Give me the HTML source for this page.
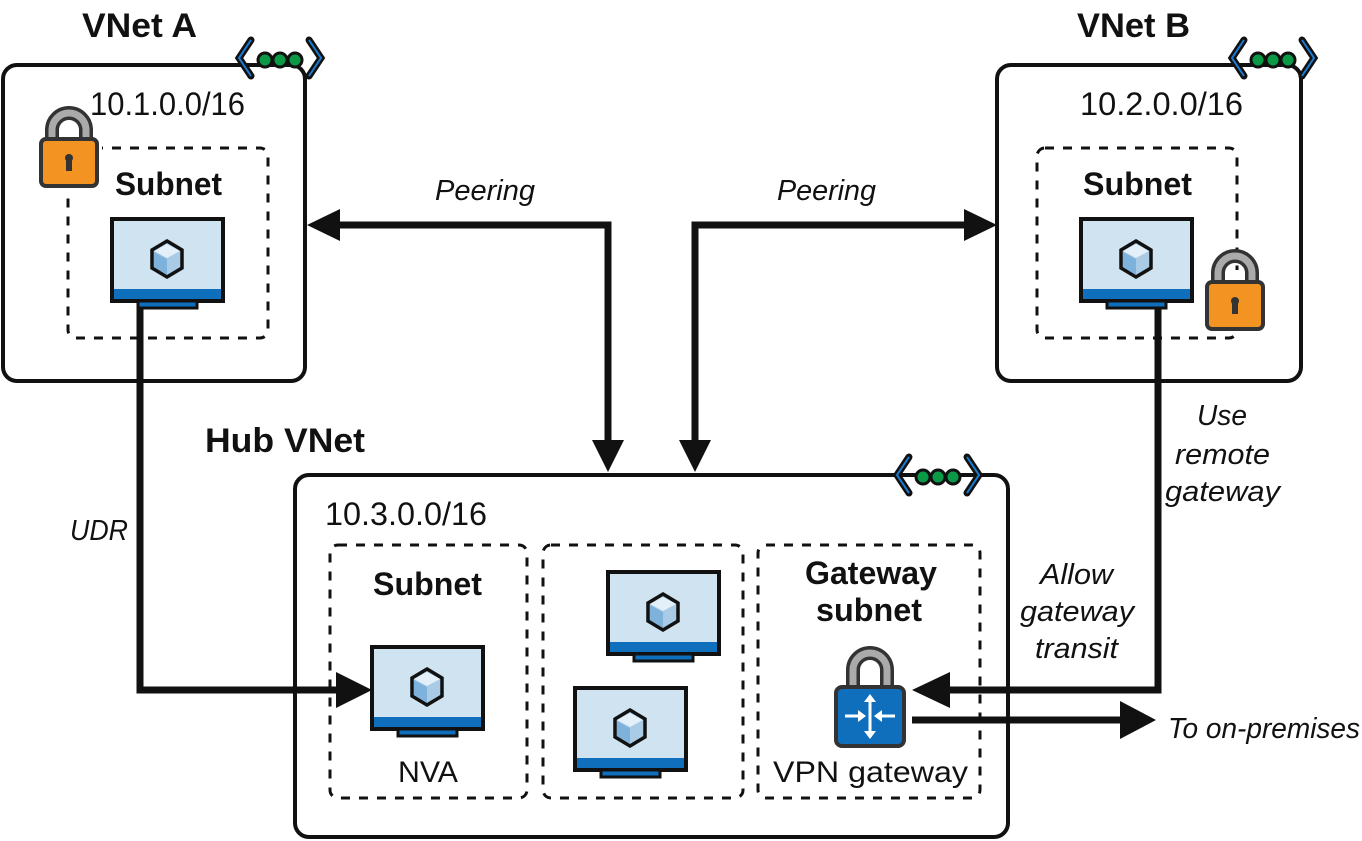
<!DOCTYPE html>
<html><head><meta charset="utf-8"><style>
html,body{margin:0;padding:0;background:#fff}
svg{display:block}
text{font-family:"Liberation Sans Narrow","Liberation Sans",sans-serif;fill:#111}
.b{font-weight:bold}
.i{font-style:italic}
</style></head><body>
<svg width="1362" height="841" viewBox="0 0 1362 841" xmlns="http://www.w3.org/2000/svg">
<defs>
<g id="mon">
 <rect x="2" y="2" width="111" height="82" fill="#cfe3f1" stroke="#111" stroke-width="4"/>
 <rect x="4" y="72" width="107" height="10" fill="#0f6fbd"/>
 <rect x="28" y="84" width="59" height="7" fill="#0f6fbd" stroke="#111" stroke-width="3"/>
 <polygon points="57,24 72,33 72,51 57,60 42,51 42,33" fill="#a9cbe6" stroke="#111" stroke-width="3.5"/>
 <polygon points="57,27 70,34 57,41 44,34" fill="#e4f0f9"/>
 <polygon points="44,35 57,42 57,58 44,50" fill="#7fb2da"/>
</g>
<g id="vnet">
 <path d="M14,4 L2,22 L14,40" fill="none" stroke="#111" stroke-width="7" stroke-linecap="round"/>
 <path d="M14,4 L2,22 L14,40" fill="none" stroke="#1b7bd0" stroke-width="2"/>
 <path d="M72,4 L84,22 L72,40" fill="none" stroke="#111" stroke-width="7" stroke-linecap="round"/>
 <path d="M72,4 L84,22 L72,40" fill="none" stroke="#1b7bd0" stroke-width="2"/>
 <circle cx="28" cy="24" r="7" fill="#0a9a47" stroke="#111" stroke-width="3"/>
 <circle cx="43" cy="24" r="7" fill="#0a9a47" stroke="#111" stroke-width="3"/>
 <circle cx="58" cy="24" r="7" fill="#0a9a47" stroke="#111" stroke-width="3"/>
</g>
<g id="lock">
 <path d="M12,42 V27 A17,17 0 0 1 46,27 V42" fill="none" stroke="#333" stroke-width="14"/>
 <path d="M12,42 V27 A17,17 0 0 1 46,27 V42" fill="none" stroke="#aaa" stroke-width="7"/>
</g>
</defs>

<!-- VNet A -->
<text x="82" y="37" class="b" font-size="34" textLength="115" lengthAdjust="spacingAndGlyphs">VNet A</text>
<rect x="3" y="65" width="302" height="316" rx="14" fill="none" stroke="#111" stroke-width="4"/>
<use href="#vnet" x="237" y="36"/>
<rect x="68" y="148" width="200" height="190" rx="8" fill="none" stroke="#111" stroke-width="3" stroke-dasharray="9,9"/>
<rect x="36" y="128" width="66" height="62" fill="#fff"/>
<text x="90" y="115" font-size="32" textLength="155" lengthAdjust="spacingAndGlyphs">10.1.0.0/16</text>
<use href="#lock" x="40" y="103"/>
<rect x="41" y="139" width="56" height="47" rx="5" fill="#f39322" stroke="#333" stroke-width="4"/>
<circle cx="69" cy="158" r="4" fill="#333"/><rect x="66" y="158" width="6" height="13" fill="#333"/>
<text x="115" y="195" class="b" font-size="32" textLength="107" lengthAdjust="spacingAndGlyphs">Subnet</text>
<use href="#mon" x="110" y="217"/>

<!-- VNet B -->
<text x="1077" y="37" class="b" font-size="34" textLength="113" lengthAdjust="spacingAndGlyphs">VNet B</text>
<rect x="997" y="65" width="304" height="316" rx="14" fill="none" stroke="#111" stroke-width="4"/>
<use href="#vnet" x="1230" y="36"/>
<text x="1080" y="115" font-size="32" textLength="163" lengthAdjust="spacingAndGlyphs">10.2.0.0/16</text>
<rect x="1037" y="148" width="200" height="190" rx="8" fill="none" stroke="#111" stroke-width="3" stroke-dasharray="9,9"/>
<text x="1083" y="195" class="b" font-size="32" textLength="109" lengthAdjust="spacingAndGlyphs">Subnet</text>
<use href="#mon" x="1079" y="217"/>
<rect x="1202" y="270" width="66" height="63" fill="#fff"/>
<use href="#lock" x="1206" y="246"/>
<rect x="1207" y="282" width="56" height="47" rx="5" fill="#f39322" stroke="#333" stroke-width="4"/>
<circle cx="1235" cy="301" r="4" fill="#333"/><rect x="1232" y="301" width="6" height="13" fill="#333"/>

<!-- Hub -->
<text x="205" y="452" class="b" font-size="34" textLength="160" lengthAdjust="spacingAndGlyphs">Hub VNet</text>
<rect x="295" y="475" width="713" height="362" rx="14" fill="none" stroke="#111" stroke-width="4"/>
<use href="#vnet" x="895" y="453"/>
<text x="325" y="525" font-size="32" textLength="162" lengthAdjust="spacingAndGlyphs">10.3.0.0/16</text>
<rect x="330" y="545" width="197" height="253" rx="8" fill="none" stroke="#111" stroke-width="3" stroke-dasharray="9,9"/>
<rect x="543" y="545" width="200" height="253" rx="8" fill="none" stroke="#111" stroke-width="3" stroke-dasharray="9,9"/>
<rect x="758" y="545" width="222" height="253" rx="8" fill="none" stroke="#111" stroke-width="3" stroke-dasharray="9,9"/>
<text x="373" y="595" class="b" font-size="32" textLength="109" lengthAdjust="spacingAndGlyphs">Subnet</text>
<use href="#mon" x="370" y="645"/>
<text x="398" y="782" font-size="30" textLength="60" lengthAdjust="spacingAndGlyphs">NVA</text>
<use href="#mon" x="606" y="570"/>
<use href="#mon" x="573" y="686"/>
<text x="805" y="584" class="b" font-size="32" textLength="132" lengthAdjust="spacingAndGlyphs">Gateway</text>
<text x="816" y="621" class="b" font-size="32" textLength="106" lengthAdjust="spacingAndGlyphs">subnet</text>
<use href="#lock" x="841" y="643"/>
<rect x="836" y="687" width="68" height="59" rx="6" fill="#0f6fbd" stroke="#333" stroke-width="4"/>
<g stroke="#fff" stroke-width="3" fill="#fff">
 <line x1="870" y1="697" x2="870" y2="736"/>
 <polygon points="864,702 870,694 876,702" stroke="none"/>
 <polygon points="864,731 870,739 876,731" stroke="none"/>
 <line x1="845" y1="716" x2="862" y2="716"/><polygon points="858,710 866,716 858,722" stroke="none"/>
 <line x1="878" y1="716" x2="895" y2="716"/><polygon points="882,710 874,716 882,722" stroke="none"/>
</g>
<text x="773" y="782" font-size="30" textLength="195" lengthAdjust="spacingAndGlyphs">VPN gateway</text>

<!-- connectors -->
<g fill="none" stroke="#111" stroke-width="7">
 <polyline points="140,307 140,690 340,690"/>
 <polyline points="608,448 608,225 338,225"/>
 <polyline points="695,448 695,225 966,225"/>
 <polyline points="1158,307 1158,690 946,690"/>
 <line x1="912" y1="720" x2="1122" y2="720"/>
</g>
<g fill="#111">
 <polygon points="336,672 372,690 336,708"/>
 <polygon points="340,209 307,225 340,241"/>
 <polygon points="592,440 608,472 624,440"/>
 <polygon points="679,440 695,472 711,440"/>
 <polygon points="964,209 997,225 964,241"/>
 <polygon points="950,672 912,690 950,708"/>
 <polygon points="1120,701 1156,720 1120,739"/>
</g>
<g font-size="29">
 <text x="435" y="200" class="i" textLength="100" lengthAdjust="spacingAndGlyphs">Peering</text>
 <text x="777" y="200" class="i" textLength="99" lengthAdjust="spacingAndGlyphs">Peering</text>
 <text x="70" y="540" class="i" textLength="58" lengthAdjust="spacingAndGlyphs">UDR</text>
 <text x="1197" y="425" class="i" textLength="50" lengthAdjust="spacingAndGlyphs">Use</text>
 <text x="1175" y="464" class="i" textLength="95" lengthAdjust="spacingAndGlyphs">remote</text>
 <text x="1165" y="501" class="i" textLength="115" lengthAdjust="spacingAndGlyphs">gateway</text>
 <text x="1040" y="584" class="i" textLength="73" lengthAdjust="spacingAndGlyphs">Allow</text>
 <text x="1020" y="621" class="i" textLength="114" lengthAdjust="spacingAndGlyphs">gateway</text>
 <text x="1035" y="658" class="i" textLength="83" lengthAdjust="spacingAndGlyphs">transit</text>
 <text x="1168" y="738" class="i" textLength="192" lengthAdjust="spacingAndGlyphs">To on-premises</text>
</g>
</svg>
</body></html>
